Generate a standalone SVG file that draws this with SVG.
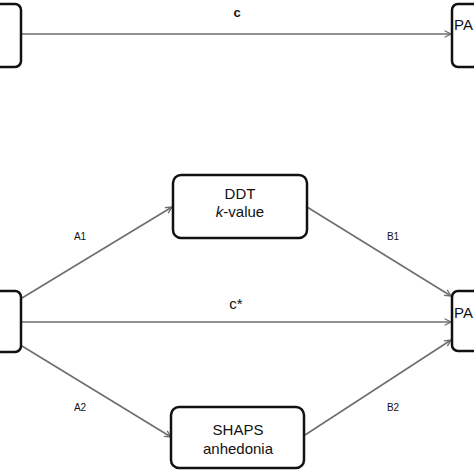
<svg xmlns="http://www.w3.org/2000/svg" width="474" height="474" viewBox="0 0 474 474">
<defs>
<style>
.box{fill:#fff;stroke:#111;stroke-width:2.5}
.edge{stroke:#6e6e6e;stroke-width:1.6;fill:none;marker-end:url(#arr)}
.t{font-family:"Liberation Sans",Arial,sans-serif;fill:#111}
.big{font-size:15px}
.small{font-size:10px}
</style>
<marker id="arr" viewBox="0 0 10 10" refX="9" refY="5" markerWidth="8" markerHeight="8" markerUnits="userSpaceOnUse" orient="auto" overflow="visible">
<path d="M1,1 L9,5 L1,9" fill="none" stroke="#6e6e6e" stroke-width="1.6"/>
</marker>
</defs>
<rect width="474" height="474" fill="#fff"/>
<g id="connectors">
<line class="edge" x1="21" y1="34" x2="451" y2="34"/>
<line class="edge" x1="22" y1="298" x2="172" y2="207"/>
<line class="edge" x1="307" y1="207" x2="451" y2="296"/>
<line class="edge" x1="21" y1="322" x2="451" y2="322"/>
<line class="edge" x1="22" y1="346" x2="171" y2="437"/>
<line class="edge" x1="305" y1="435" x2="451" y2="340"/>
<text class="t" x="237" y="17" font-size="13" font-weight="bold" text-anchor="middle">c</text>
<text class="t" x="236" y="309" font-size="15" text-anchor="middle">c*</text>
<text class="t small" x="80" y="240" text-anchor="middle">A1</text>
<text class="t small" x="393" y="240" text-anchor="middle">B1</text>
<text class="t small" x="80" y="411" text-anchor="middle">A2</text>
<text class="t small" x="393" y="411" text-anchor="middle">B2</text>
</g>
<g id="node-left-top"><rect class="box" x="-20" y="4" width="41" height="63" rx="6"/></g>
<g id="node-pa-top"><rect class="box" x="452" y="4" width="40" height="63" rx="6"/><text class="t big" x="454" y="30">PA</text></g>
<g id="node-left-bottom"><rect class="box" x="-20" y="291" width="41" height="61" rx="6"/></g>
<g id="node-pa-bottom"><rect class="box" x="452" y="291" width="40" height="60" rx="6"/><text class="t big" x="454" y="318">PA</text></g>
<g id="node-ddt"><rect class="box" x="173" y="175" width="134" height="63" rx="8"/>
<text class="t big" x="240" y="199" text-anchor="middle">DDT</text>
<text class="t big" x="240" y="217" text-anchor="middle"><tspan font-style="italic">k</tspan>-value</text></g>
<g id="node-shaps"><rect class="box" x="171" y="407" width="133" height="61" rx="8"/>
<text class="t big" x="238" y="435" text-anchor="middle">SHAPS</text>
<text class="t big" x="238" y="454" text-anchor="middle">anhedonia</text></g>
</svg>
